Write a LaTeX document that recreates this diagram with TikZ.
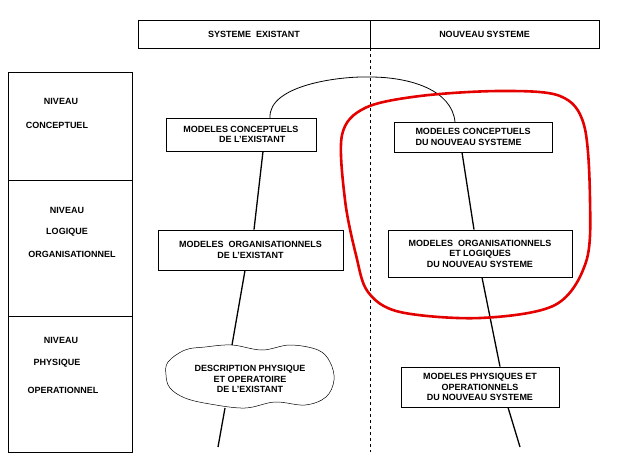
\documentclass[tikz,border=0pt]{standalone}
\usepackage{fontspec}
\setmainfont{Liberation Sans}
\begin{document}
\begin{tikzpicture}[x=1pt,y=-1pt,
  box/.style={draw,line width=0.8pt,inner sep=0pt},
  lbl/.style={font=\fontsize{9}{10.5}\selectfont\bfseries,align=center},
  conn/.style={line width=1.3pt}]
\useasboundingbox (0,0) rectangle (623,467);
% header
\node[box,minimum width=232,minimum height=28,lbl] (h1) at (254,34) {SYSTEME \ EXISTANT};
\node[box,minimum width=229,minimum height=28,lbl] (h2) at (484.5,34) {NOUVEAU SYSTEME};
\coordinate (dt) at (370,48); \coordinate (db) at (370,452);
\draw[dashed,line width=0.6pt] (dt) -- (db);
% left levels
\node[box,minimum width=124,minimum height=108] (l1) at (70,126) {};
\node[box,minimum width=124,minimum height=136] (l2) at (70,248) {};
\node[box,minimum width=124,minimum height=136] (l3) at (70,384) {};
\node[lbl] (t1a) at (61,101) {NIVEAU};
\node[lbl] (t1b) at (57,125) {CONCEPTUEL};
\node[lbl] (t2a) at (67,210) {NIVEAU};
\node[lbl] (t2b) at (67,232) {LOGIQUE};
\node[lbl] (t2c) at (72,254) {ORGANISATIONNEL};
\node[lbl] (t3a) at (61,340) {NIVEAU};
\node[lbl] (t3b) at (57,363) {PHYSIQUE};
\node[lbl] (t3c) at (63,390) {OPERATIONNEL};
% model boxes
\node[box,minimum width=150,minimum height=33,lbl] (A) at (241,134.5) {MODELES CONCEPTUELS\\\hspace*{2.5em}DE L'EXISTANT};
\node[box,minimum width=158,minimum height=30,lbl,align=left] (B) at (473,137) {MODELES CONCEPTUELS\\DU NOUVEAU SYSTEME};
\node[box,minimum width=185,minimum height=40,lbl] (C) at (250.5,250) {MODELES \ ORGANISATIONNELS\\DE L'EXISTANT};
\node[box,minimum width=184,minimum height=47,lbl] (D) at (480,253.5) {MODELES \ ORGANISATIONNELS\\ET LOGIQUES\\DU NOUVEAU SYSTEME};
\node[box,minimum width=158,minimum height=40,lbl] (F) at (480,387) {MODELES PHYSIQUES ET\\OPERATIONNELS\\DU NOUVEAU SYSTEME};
\node[lbl] (E) at (250,379) {DESCRIPTION PHYSIQUE\\ET OPERATOIRE\\DE L'EXISTANT};
\draw[line width=0.5pt] plot[smooth cycle,tension=0.6] coordinates{(168,362)(185,350)(205,347)(232,345)(262,350)(290,345)(318,350)(330,362)(334,380)(326,397)(305,405)(275,402)(245,408)(210,404)(185,398)(170,388)(166,375)};
% connectors
\coordinate (Atop) at (270,118); \coordinate (Btop) at (455,122);
\draw[line width=0.8pt] (Atop) .. controls (268,85) and (340,76) .. (370,77) .. controls (410,77) and (452,90) .. (Btop);
\coordinate (e1) at (232,345); \coordinate (e2) at (225,408);
\coordinate (end1) at (218,447); \coordinate (end2) at (520,447);
\draw[conn] (A.south -| 263,0) -- (C.north -| 254,0);
\draw[conn] (C.south -| 245,0) -- (e1);
\draw[conn] (e2) -- (end1);
\draw[conn] (B.south -| 462,0) -- (D.north -| 474,0);
\draw[conn] (D.south -| 482,0) -- (F.north -| 500,0);
\draw[conn] (F.south -| 508,0) -- (end2);
% red outline
\draw[red!90!black,line width=2.6pt] plot[smooth cycle,tension=0.55] coordinates{(342,135)(365,108)(420,96)(500,91)(560,96)(584,125)(590,200)(586,262)(555,305)(480,318)(400,312)(368,292)(356,255)(345,200)};
\end{tikzpicture}
\end{document}
